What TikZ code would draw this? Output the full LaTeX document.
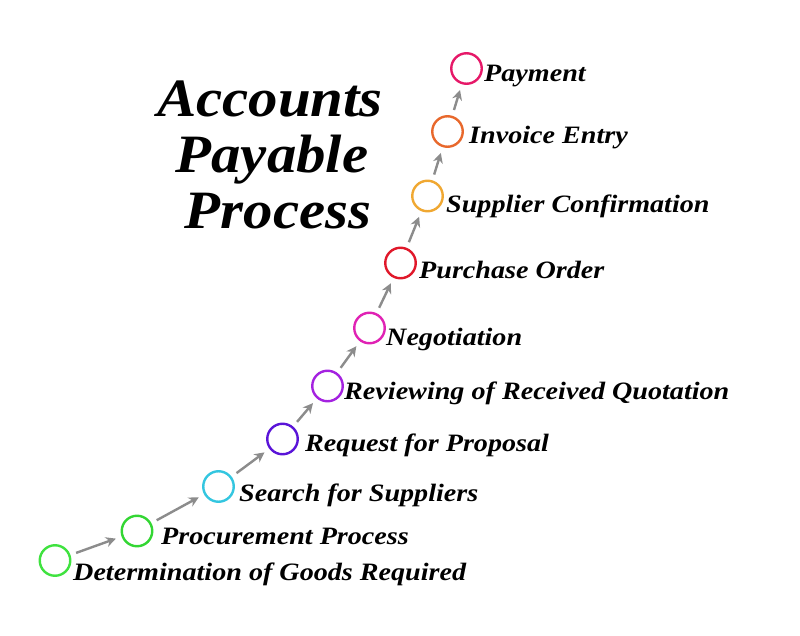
\documentclass[tikz,border=0pt]{standalone}
\usepackage{fontspec}
\setmainfont{Liberation Serif}
\newfontfamily\lblfont[FakeStretch=1.125]{Liberation Serif}
\newfontfamily\ttlfont[FakeStretch=1.09]{Liberation Serif}
\usetikzlibrary{arrows.meta}
\definecolor{cA}{HTML}{3FE23F}
\definecolor{cB}{HTML}{33D633}
\definecolor{cC}{HTML}{33C6E0}
\definecolor{cD}{HTML}{5A14D8}
\definecolor{cE}{HTML}{A422E0}
\definecolor{cF}{HTML}{E022B4}
\definecolor{cG}{HTML}{E0182A}
\definecolor{cH}{HTML}{F0A832}
\definecolor{cI}{HTML}{E8682C}
\definecolor{cJ}{HTML}{E61868}
\definecolor{arr}{HTML}{8C8C8C}
\tikzset{
  stepcirc/.style={circle, draw=#1, line width=2.4pt, minimum size=30.5pt, inner sep=0pt},
  lbl/.style={anchor=base west, inner sep=0pt, font=\lblfont\fontsize{25}{30}\selectfont\bfseries\itshape},
  ttl/.style={anchor=base, inner sep=0pt, font=\ttlfont\fontsize{54}{60}\selectfont\bfseries\itshape},
  flow/.style={draw=arr, line width=2.4pt, -{Stealth[length=10pt,width=10pt]}, shorten <=6pt, shorten >=6pt}
}
\begin{document}
\begin{tikzpicture}[x=1pt,y=-1pt]
\useasboundingbox (0,0) rectangle (800,636);
\fill[white] (0,0) rectangle (800,636);
% circles
\node[stepcirc=cA] (s1) at (55,560.5) {};
\node[stepcirc=cB] (s2) at (137,531) {};
\node[stepcirc=cC] (s3) at (218.5,486.5) {};
\node[stepcirc=cD] (s4) at (282.5,439) {};
\node[stepcirc=cE] (s5) at (327.5,386) {};
\node[stepcirc=cF] (s6) at (369.5,328) {};
\node[stepcirc=cG] (s7) at (400.5,263) {};
\node[stepcirc=cH] (s8) at (427.5,196) {};
\node[stepcirc=cI] (s9) at (447.5,131.5) {};
\node[stepcirc=cJ] (s10) at (466.5,68.5) {};
% arrows
\draw[flow] (s1) -- (s2);
\draw[flow] (s2) -- (s3);
\draw[flow] (s3) -- (s4);
\draw[flow] (s4) -- (s5);
\draw[flow] (s5) -- (s6);
\draw[flow] (s6) -- (s7);
\draw[flow] (s7) -- (s8);
\draw[flow] (s8) -- (s9);
\draw[flow] (s9) -- (s10);
% labels
\node[lbl] (l1) at (73,580) {Determination of Goods Required};
\node[lbl] (l2) at (161,544) {Procurement Process};
\node[lbl] (l3) at (239,501) {Search for Suppliers};
\node[lbl] (l4) at (305,451) {Request for Proposal};
\node[lbl] (l5) at (344,399) {Reviewing of Received Quotation};
\node[lbl] (l6) at (386,345) {Negotiation};
\node[lbl] (l7) at (419,279) {Purchase Order};
\node[lbl] (l8) at (446,213) {Supplier Confirmation};
\node[lbl] (l9) at (469,144) {Invoice Entry};
\node[lbl] (l10) at (484,82) {Payment};
% title
\node[ttl] (t1) at (270,117) {Accounts};
\node[ttl] (t2) at (272,173) {Payable};
\node[ttl] (t3) at (278,229) {Process};
\end{tikzpicture}
\end{document}
